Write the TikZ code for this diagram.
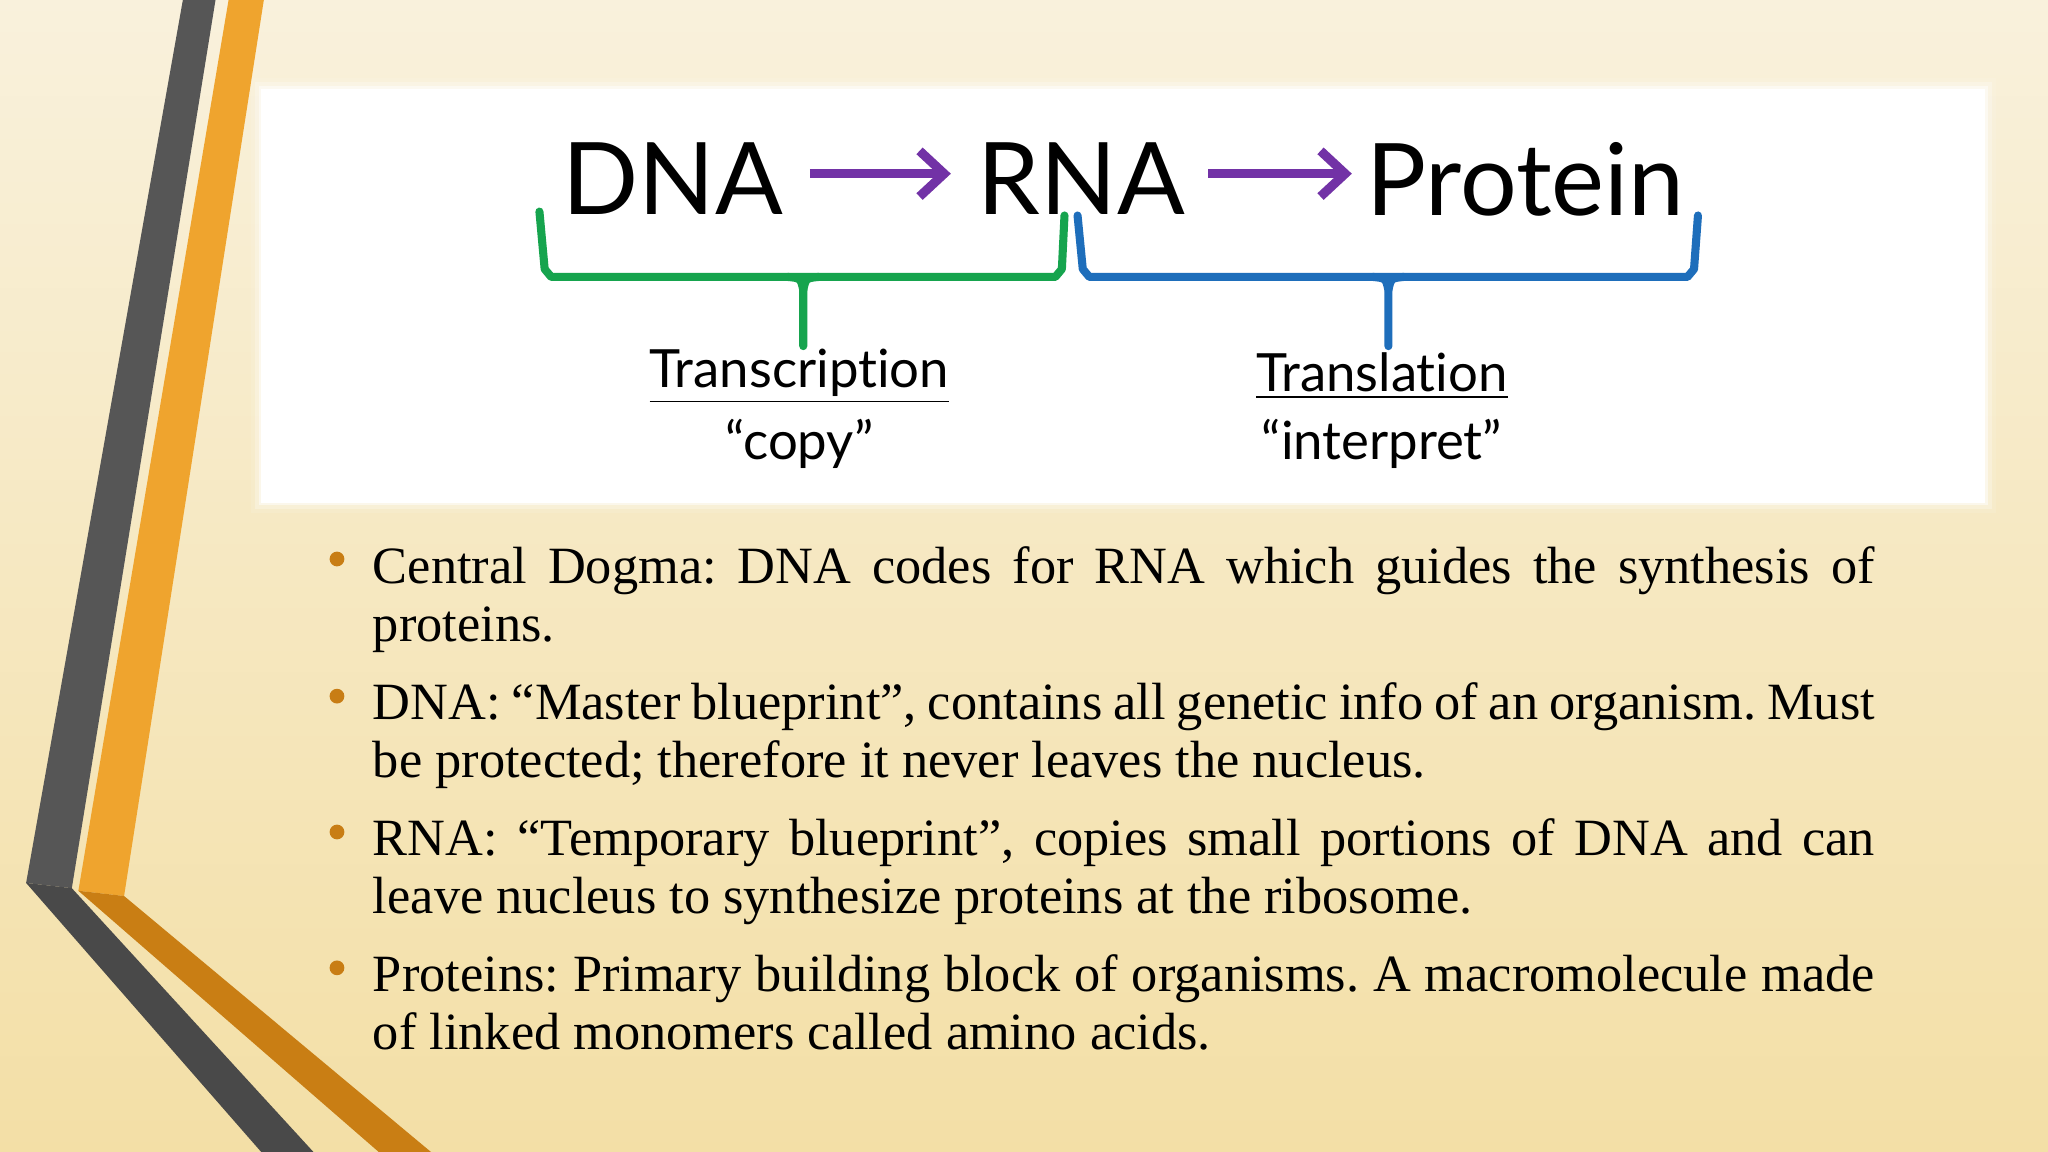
\documentclass[tikz,border=0pt]{standalone}
\usepackage{fontspec}
\setmainfont{Liberation Serif}
\newfontfamily\gill[Ligatures={NoCommon,NoContextual}]{Lato}
\usetikzlibrary{arrows.meta,calc}
\definecolor{bgtop}{HTML}{F9F1DC}
\definecolor{bgbot}{HTML}{F3DFA6}
\definecolor{darkband}{HTML}{565656}
\definecolor{orband}{HTML}{EFA42E}
\definecolor{orband2}{HTML}{C97E14}
\definecolor{grn}{HTML}{16A44E}
\definecolor{blu}{HTML}{1E6EBB}
\definecolor{purp}{HTML}{7232A6}
\definecolor{bul}{HTML}{C87D14}
\tikzset{
  big/.style={font=\gill\fontsize{28.5}{30}\selectfont, inner sep=0pt},
  lab/.style={font=\gill\fontsize{15}{16}\selectfont, inner sep=0pt},
  brace/.style={line width=2.3pt, line join=round, line cap=round},
  parr/.style={purp, line width=2.6pt, -{Straight Barb[length=7pt,width=13pt,line width=2.6pt]}},
  bodytext/.style={anchor=north west, inner sep=0pt, text width=15.02cm, align=justify,
     font=\fontsize{14.9}{16.6}\selectfont},
  dot/.style={circle, fill=bul, inner sep=0pt, minimum size=4.2pt}
}
\begin{document}
\frenchspacing\hyphenpenalty=10000 \exhyphenpenalty=10000
\begin{tikzpicture}[x=0.013061cm,y=-0.013061cm]
\useasboundingbox (0,0) rectangle (1568,882);
\shade[top color=bgtop, bottom color=bgbot] (0,0) rectangle (1568,882);
% white panel with soft edge
\foreach \i/\o in {8/10,5/25,2/50}{
  \fill[white, opacity=0.\o] (200-\i,68-\i) rectangle (1520+\i,385+\i);}
\fill[white] (200,68) rectangle (1520,385);
% left bands
\fill[darkband] (140,0) -- (165,0) -- (55,680) -- (20,676) -- cycle;
\fill[darkband!85!black] (20,676) -- (55,680) -- (240,882) -- (200,882) -- cycle;
\fill[orband] (175,0) -- (202,0) -- (95,686) -- (60,682) -- cycle;
\fill[orband2] (60,682) -- (95,686) -- (330,882) -- (290,882) -- cycle;
% main words
\node[big] (dna) at (515,137) {DNA};
\node[big] (rna) at (828,137) {RNA};
\node[big] (prot) at (1168,137) {Protein};
\coordinate (a1s) at (620,133); \coordinate (a1e) at (728,133);
\coordinate (a2s) at (925,133); \coordinate (a2e) at (1035,133);
\draw[parr] (a1s) -- (a1e);
\draw[parr] (a2s) -- (a2e);
% braces
\coordinate (g1) at (413,162); \coordinate (g2) at (815,165); \coordinate (gt) at (615,265);
\coordinate (b1) at (825,165); \coordinate (b2) at (1300,165); \coordinate (bt) at (1063,265);
\draw[brace,grn] (g1) -- (417,206) -- (422,212) -- (808,212) -- (813,206) -- (g2);
\draw[brace,grn] (603,212) .. controls (613,213) .. (615,222) -- (gt);
\draw[brace,grn] (627,212) .. controls (617,213) .. (615,222);
\draw[brace,blu] (b1) -- (829,206) -- (834,212) -- (1292,212) -- (1297,206) -- (b2);
\draw[brace,blu] (1051,212) .. controls (1061,213) .. (1063,222) -- (bt);
\draw[brace,blu] (1075,212) .. controls (1065,213) .. (1063,222);
\node[lab] (tc) at (612,288) {\underline{Transcription}};
\node[lab] (cp) at (612,340) {“copy”};
\node[lab] (tl) at (1058,288) {\underline{Translation}};
\node[lab] (ip) at (1058,340) {“interpret”};
% bullets
\node[bodytext] (p1) at (285,418) {Central Dogma: DNA codes for RNA which guides the synthesis of\linebreak proteins.};
\node[bodytext] (p2) at (285,522) {DNA: “Master blueprint\symbol{34}, contains all genetic info of an organism. Must\linebreak be protected; therefore it never leaves the nucleus.};
\node[bodytext] (p3) at (285,626) {RNA: “Temporary blueprint\symbol{34}, copies small portions of DNA and can\linebreak leave nucleus to synthesize proteins at the ribosome.};
\node[bodytext] (p4) at (285,730) {Proteins: Primary building block of organisms. A macromolecule made\linebreak of linked monomers called amino acids.};
\foreach \n/\yy in {d1/428,d2/533,d3/637,d4/741}{\node[dot] (\n) at (258,\yy) {};}
\end{tikzpicture}
\end{document}
